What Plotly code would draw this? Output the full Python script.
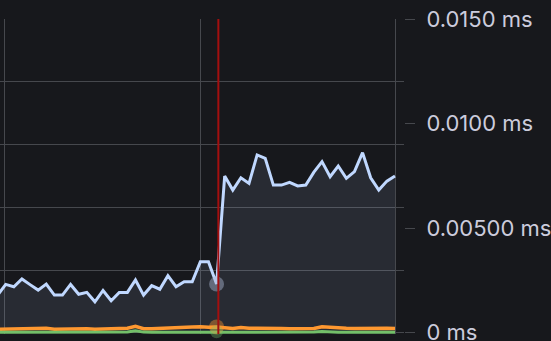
import plotly.graph_objects as go

# sample index (time steps)
idx = list(range(50))

# latency series (ms)
blue_vals = [0.00180, 0.00231, 0.00220, 0.00257, 0.00230, 0.00204, 0.00233, 0.00180, 0.00180, 0.00231,
             0.00184, 0.00193, 0.00148, 0.00202, 0.00153, 0.00193, 0.00193, 0.00252, 0.00180, 0.00225,
             0.00208, 0.00273, 0.00220, 0.00244, 0.00244, 0.00340, 0.00340, 0.00233, 0.00749, 0.00682,
             0.00741, 0.00714, 0.00850, 0.00834, 0.00706, 0.00706, 0.00719, 0.00702, 0.00706, 0.00768,
             0.00818, 0.00746, 0.00797, 0.00738, 0.00770, 0.00861, 0.00741, 0.00682, 0.00725, 0.00749]

orange_vals = [0.00017, 0.00018, 0.00015, 0.00016, 0.00018, 0.00019, 0.00021, 0.00017, 0.00018, 0.00016,
               0.00018, 0.00019, 0.00017, 0.00019, 0.00020, 0.00019, 0.00022, 0.00031, 0.00019, 0.00019,
               0.00020, 0.00021, 0.00022, 0.00022, 0.00027, 0.00029, 0.00026, 0.00028, 0.00022, 0.00020,
               0.00025, 0.00021, 0.00022, 0.00020, 0.00021, 0.00020, 0.00019, 0.00020, 0.00019, 0.00020,
               0.00029, 0.00025, 0.00022, 0.00021, 0.00020, 0.00021, 0.00021, 0.00020, 0.00021, 0.00020]

green_vals = [0.00002, 0.00002, 0.00002, 0.00002, 0.00002, 0.00002, 0.00003, 0.00002, 0.00002, 0.00002,
              0.00002, 0.00002, 0.00002, 0.00002, 0.00002, 0.00002, 0.00004, 0.00009, 0.00003, 0.00002,
              0.00002, 0.00002, 0.00002, 0.00003, 0.00003, 0.00004, 0.00005, 0.00005, 0.00003, 0.00002,
              0.00002, 0.00002, 0.00002, 0.00002, 0.00002, 0.00002, 0.00002, 0.00002, 0.00002, 0.00003,
              0.00006, 0.00003, 0.00002, 0.00002, 0.00002, 0.00002, 0.00002, 0.00002, 0.00002, 0.00002]

y_tick_vals = [0, 0.005, 0.010, 0.015]
y_tick_text = ["0 ms", "0.00500 ms", "0.0100 ms", "0.0150 ms"]
y_grid_vals = [0, 0.003, 0.006, 0.009, 0.012, 0.015]
x_grid_vals = [0.86, 25.05, 49]
hover_idx = 27
cursor_x = 27.22

BG = "#17181c"
GRID = "#46484d"
TXT = "#ccccdc"

fig = go.Figure()
fig.add_trace(go.Scatter(x=idx, y=blue_vals, mode="lines",
                         line=dict(color="#c0d8ff", width=3),
                         fill="tozeroy", fillcolor="rgba(192,216,255,0.10)"))
fig.add_trace(go.Scatter(x=idx, y=orange_vals, mode="lines",
                         line=dict(color="#ff9830", width=3.5)))
fig.add_trace(go.Scatter(x=idx, y=green_vals, mode="lines",
                         line=dict(color="#73bf69", width=3)))
# hover point markers
fig.add_trace(go.Scatter(x=[idx[hover_idx]], y=[blue_vals[hover_idx]], mode="markers",
                         marker=dict(size=15, color="rgba(170,185,210,0.45)", line=dict(width=0)),
                         cliponaxis=False))
fig.add_trace(go.Scatter(x=[idx[hover_idx]], y=[orange_vals[hover_idx]], mode="markers",
                         marker=dict(size=15, color="rgba(255,152,48,0.40)", line=dict(width=0)),
                         cliponaxis=False))
fig.add_trace(go.Scatter(x=[idx[hover_idx]], y=[green_vals[hover_idx]], mode="markers",
                         marker=dict(size=13, color="rgba(115,191,105,0.35)", line=dict(width=0)),
                         cliponaxis=False))
# grid carrier for the secondary axis
fig.add_trace(go.Scatter(x=[idx[0]], y=[0], mode="markers", yaxis="y2",
                         marker=dict(size=1, color="rgba(0,0,0,0)"), hoverinfo="skip"))

fig.add_shape(type="line", xref="x", yref="paper", x0=cursor_x, x1=cursor_x, y0=0, y1=1,
              line=dict(color="#a30f0f", width=2))

yr = [-0.00006, 0.015]
fig.update_layout(
    width=551, height=341, autosize=False,
    margin=dict(l=0, r=147, t=19, b=7, pad=0, autoexpand=False),
    paper_bgcolor=BG, plot_bgcolor=BG,
    showlegend=False,
    font=dict(family="Inter", color=TXT, size=22),
    xaxis=dict(range=[0.297, 50.11], tickvals=x_grid_vals, showticklabels=False, automargin=False,
               showgrid=True, gridcolor=GRID, gridwidth=1, zeroline=False, showline=False, ticks=""),
    yaxis=dict(range=yr, side="right", tickvals=y_tick_vals, ticktext=y_tick_text,
               ticks="outside", ticklen=10, tickcolor=GRID, tickwidth=1, automargin=False,
               showgrid=False, zeroline=False, showline=False,
               ticklabeloverflow="allow",
               ticklabelstandoff=7, tickfont=dict(family="Inter", size=22, color=TXT)),
    yaxis2=dict(range=yr, overlaying="y", side="left", tickvals=y_grid_vals, automargin=False,
                showticklabels=False, showgrid=True, gridcolor=GRID, gridwidth=1,
                zeroline=False, showline=False, ticks=""),
)

fig.write_html("out.html")
